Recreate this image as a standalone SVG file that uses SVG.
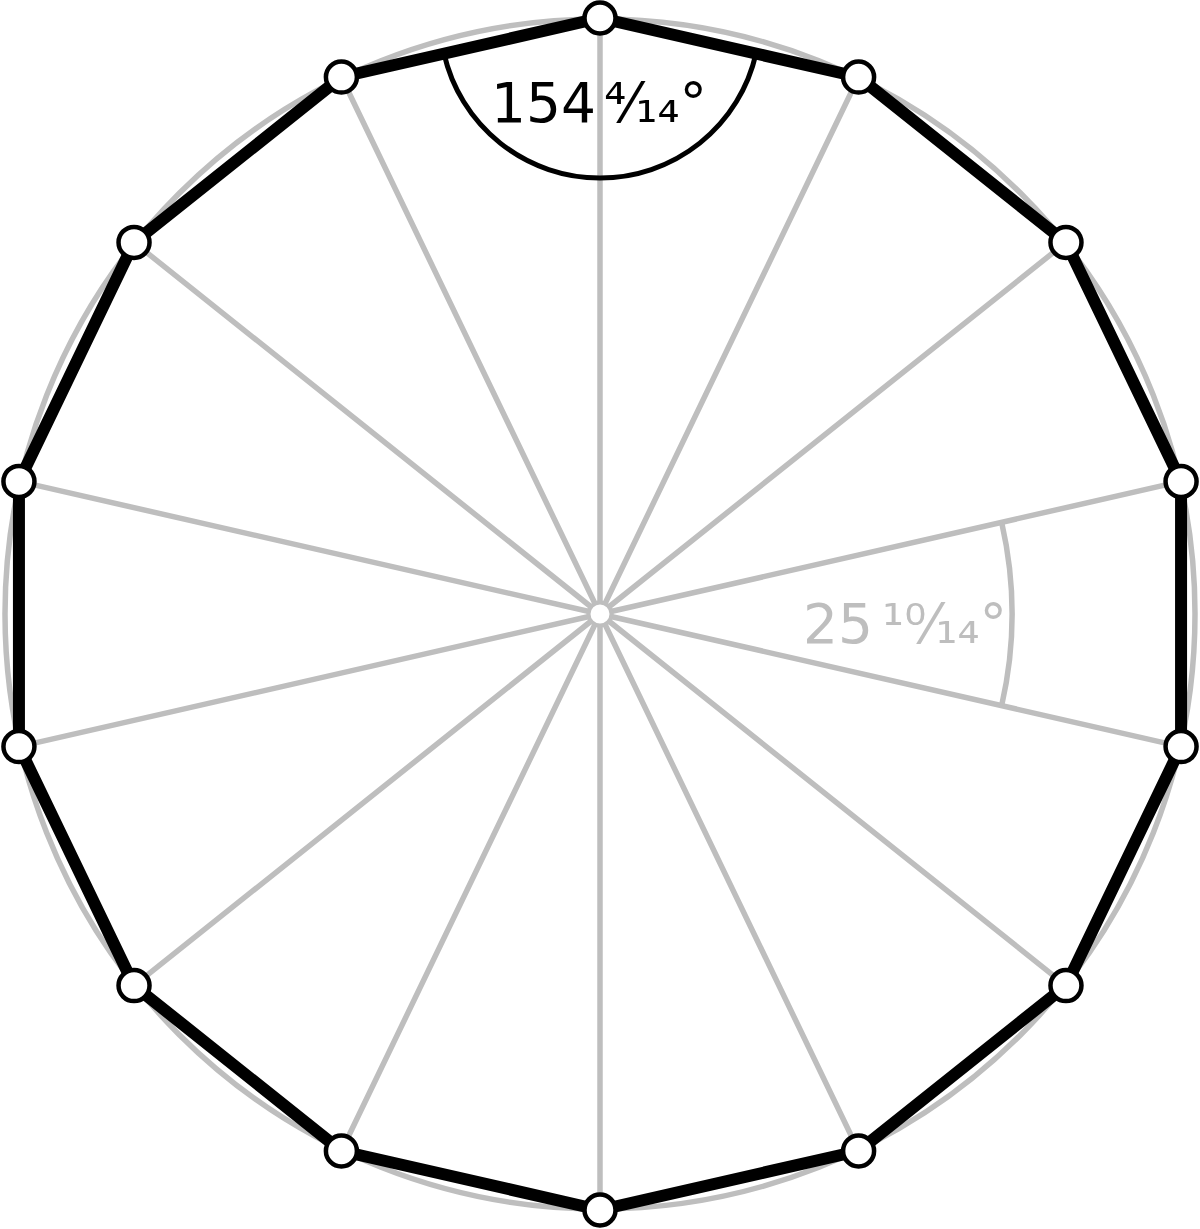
<svg xmlns="http://www.w3.org/2000/svg" width="1200" height="1229" viewBox="0 0 1200 1229">
<style>
.g{fill:none;stroke:#bebebe;stroke-width:5.5}
.b{fill:none;stroke:#000;stroke-width:5}
.v{fill:#fff;stroke:#000;stroke-width:4.5}
.t{font-family:"DejaVu Sans",sans-serif;font-size:55px}
</style>
<rect width="1200" height="1229" fill="#fff"/>
<circle class="g" cx="600" cy="614" r="595"/>
<g id="connectors">
<path class="g" d="M600,614L600,18M600,614L858.59,77.02M600,614L1065.97,242.4M600,614L1181.06,481.38M600,614L1181.06,746.62M600,614L1065.97,985.6M600,614L858.59,1150.98M600,614L600,1210M600,614L341.41,1150.98M600,614L134.03,985.6M600,614L18.94,746.62M600,614L18.94,481.38M600,614L134.03,242.4M600,614L341.41,77.02"/>
<path class="g" d="M1001.67,522.32A412,412 0 0 1 1001.67,705.68"/>
<polygon fill="none" stroke="#000" stroke-width="12" stroke-linejoin="round" points="600,18 858.59,77.02 1065.97,242.4 1181.06,481.38 1181.06,746.62 1065.97,985.6 858.59,1150.98 600,1210 341.41,1150.98 134.03,985.6 18.94,746.62 18.94,481.38 134.03,242.4 341.41,77.02"/>
<path class="b" d="M444.01,53.6A160,160 0 0 0 755.99,53.6"/>
</g>
<g id="label-exterior" fill="#bebebe">
<text class="t" x="803" y="643">25</text>
<text class="t" x="1007" y="643" text-anchor="end">¹⁰⁄₁₄°</text>
</g>
<g id="label-interior" fill="#000">
<text class="t" x="491" y="122">154</text>
<text class="t" x="707" y="122" text-anchor="end">⁴⁄₁₄°</text>
</g>
<g id="v0"><circle class="v" cx="600" cy="18" r="15.5"/></g>
<g id="v1"><circle class="v" cx="858.59" cy="77.02" r="15.5"/></g>
<g id="v2"><circle class="v" cx="1065.97" cy="242.4" r="15.5"/></g>
<g id="v3"><circle class="v" cx="1181.06" cy="481.38" r="15.5"/></g>
<g id="v4"><circle class="v" cx="1181.06" cy="746.62" r="15.5"/></g>
<g id="v5"><circle class="v" cx="1065.97" cy="985.6" r="15.5"/></g>
<g id="v6"><circle class="v" cx="858.59" cy="1150.98" r="15.5"/></g>
<g id="v7"><circle class="v" cx="600" cy="1210" r="15.5"/></g>
<g id="v8"><circle class="v" cx="341.41" cy="1150.98" r="15.5"/></g>
<g id="v9"><circle class="v" cx="134.03" cy="985.6" r="15.5"/></g>
<g id="v10"><circle class="v" cx="18.94" cy="746.62" r="15.5"/></g>
<g id="v11"><circle class="v" cx="18.94" cy="481.38" r="15.5"/></g>
<g id="v12"><circle class="v" cx="134.03" cy="242.4" r="15.5"/></g>
<g id="v13"><circle class="v" cx="341.41" cy="77.02" r="15.5"/></g>
<g id="center"><circle cx="600" cy="614" r="11.5" fill="#fff" stroke="#bebebe" stroke-width="4"/></g>
</svg>
